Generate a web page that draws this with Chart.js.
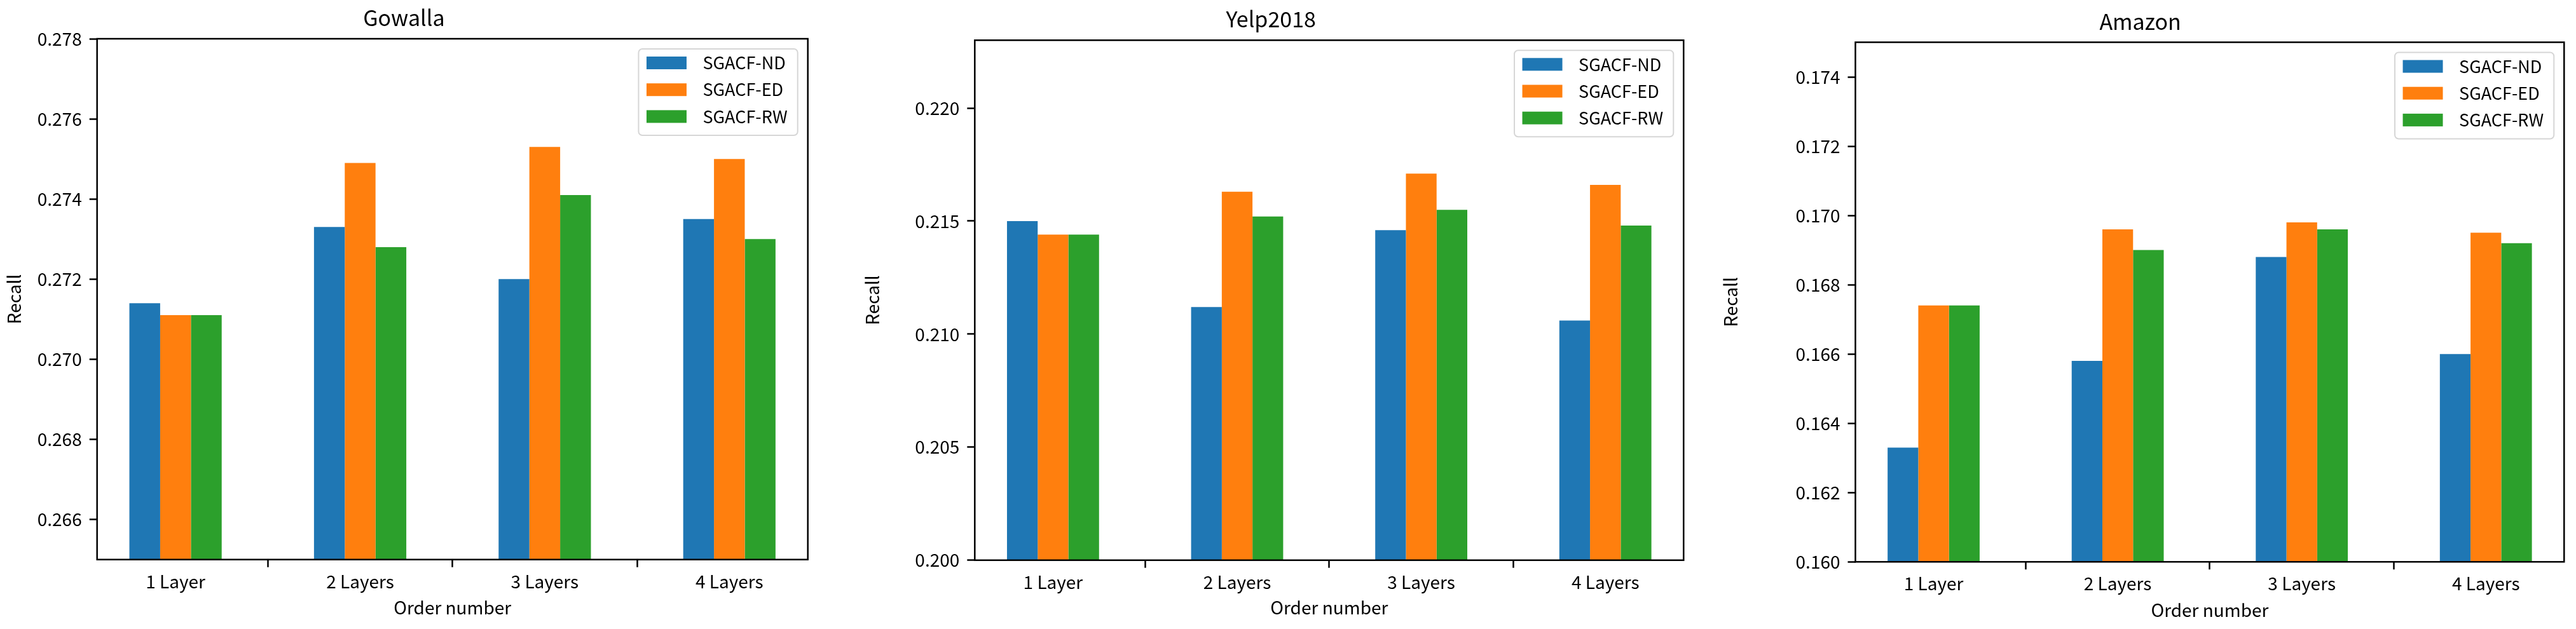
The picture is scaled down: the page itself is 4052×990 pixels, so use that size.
<!DOCTYPE html>
<html><head><meta charset="utf-8">
<script src="https://cdn.jsdelivr.net/npm/chart.js@4.4.1/dist/chart.umd.min.js"></script>
<style>
html,body{margin:0;padding:0;background:#fff;}
#wrap{position:relative;width:4052px;height:990px;overflow:hidden;background:#fff;}
canvas{position:absolute;top:0;}
</style></head><body><div id="wrap">
<canvas id="c0" width="1350" height="990" style="left:0px"></canvas>
<canvas id="c1" width="1350" height="990" style="left:1350px"></canvas>
<canvas id="c2" width="1352" height="990" style="left:2700px"></canvas>
</div>
<script>
// ---- data ----
const categories = ['1 Layer', '2 Layers', '3 Layers', '4 Layers'];
const seriesNames = ['SGACF-ND', 'SGACF-ED', 'SGACF-RW'];
const seriesColors = ['#1f77b4', '#ff7f0e', '#2ca02c'];

const gowallaND = [0.2714, 0.2733, 0.2720, 0.2735];
const gowallaED = [0.2711, 0.2749, 0.2753, 0.2750];
const gowallaRW = [0.2711, 0.2728, 0.2741, 0.2730];
const gowallaTicks = [0.266, 0.268, 0.270, 0.272, 0.274, 0.276, 0.278];

const yelpND = [0.2150, 0.2112, 0.2146, 0.2106];
const yelpED = [0.2144, 0.2163, 0.2171, 0.2166];
const yelpRW = [0.2144, 0.2152, 0.2155, 0.2148];
const yelpTicks = [0.200, 0.205, 0.210, 0.215, 0.220];

const amazonND = [0.1633, 0.1658, 0.1688, 0.1660];
const amazonED = [0.1674, 0.1696, 0.1698, 0.1695];
const amazonRW = [0.1674, 0.1690, 0.1696, 0.1692];
const amazonTicks = [0.160, 0.162, 0.164, 0.166, 0.168, 0.170, 0.172, 0.174];

const xCategoryIndex = [0, 1, 2, 3];

// ---- layout (pixel boxes of each axes) ----
const panels = [
  {id: 'c0', title: 'Gowalla', series: [gowallaND, gowallaED, gowallaRW], yMin: 0.265, yMax: 0.278, yTicks: gowallaTicks,
   box: {left: 152.7, right: 1270.7, top: 61, bottom: 880.7}, xTitlePad: 17},
  {id: 'c1', title: 'Yelp2018', series: [yelpND, yelpED, yelpRW], yMin: 0.200, yMax: 0.223, yTicks: yelpTicks,
   box: {left: 183.3, right: 1298.3, top: 63.3, bottom: 881.7}, xTitlePad: 16.7},
  {id: 'c2', title: 'Amazon', series: [amazonND, amazonED, amazonRW], yMin: 0.160, yMax: 0.175, yTicks: amazonTicks,
   box: {left: 218.5, right: 1333.3, top: 66.5, bottom: 884.3}, xTitlePad: 13}
];

const FONT = "'Noto Sans CJK SC', 'Noto Sans', sans-serif";
Chart.defaults.font.family = FONT;
Chart.defaults.color = '#000';

const framePlugin = {
  id: 'mplFrame',
  afterDraw(chart) {
    const {ctx, chartArea: a} = chart;
    ctx.save();
    // legend
    ctx.font = '27px ' + FONT;
    const ds = chart.data.datasets;
    const tw = Math.max(...ds.map(d => ctx.measureText(d.label).width));
    const w = Math.max(239, 101 + tw + 16), h = 136;
    const x = a.right - 16 - w, y = a.top + 16;
    const r = 6;
    ctx.beginPath();
    ctx.moveTo(x + r, y);
    ctx.arcTo(x + w, y, x + w, y + h, r);
    ctx.arcTo(x + w, y + h, x, y + h, r);
    ctx.arcTo(x, y + h, x, y, r);
    ctx.arcTo(x, y, x + w, y, r);
    ctx.closePath();
    ctx.fillStyle = 'rgba(255,255,255,0.8)';
    ctx.fill();
    ctx.lineWidth = 2;
    ctx.strokeStyle = '#d6d6d6';
    ctx.stroke();
    ds.forEach((d, i) => {
      const cy = y + 22 + i * 42.2;
      ctx.fillStyle = d.backgroundColor;
      ctx.fillRect(x + 12.5, cy - 10, 63, 20);
      ctx.fillStyle = '#000';
      ctx.textBaseline = 'middle';
      ctx.textAlign = 'left';
      ctx.fillText(d.label, x + 101, cy);
    });
    // axes frame
    ctx.lineWidth = 2.5;
    ctx.strokeStyle = '#000';
    ctx.strokeRect(a.left, a.top, a.right - a.left, a.bottom - a.top);
    ctx.restore();
  }
};

panels.forEach(p => {
  const canvas = document.getElementById(p.id);
  const W = canvas.width, H = canvas.height;
  const titlePadTop = p.box.top - 53.3;
  const titlePadBottom = p.box.top - 40.8 - titlePadTop;
  new Chart(canvas, {
    type: 'bar',
    data: {
      datasets: p.series.map((vals, si) => ({
        label: seriesNames[si],
        data: vals.map((v, i) => ({x: xCategoryIndex[i], y: v})),
        backgroundColor: seriesColors[si],
        borderWidth: 0,
        categoryPercentage: 0.5,
        barPercentage: 1.0
      }))
    },
    options: {
      responsive: false,
      animation: false,
      devicePixelRatio: 1,
      layout: {padding: {left: 0, top: 0, bottom: 0, right: W - p.box.right}},
      plugins: {
        legend: {display: false},
        tooltip: {enabled: false},
        title: {display: true, text: p.title, color: '#000',
                font: {size: 34, weight: 'normal', family: FONT, lineHeight: 1.2},
                padding: {top: titlePadTop, bottom: titlePadBottom}}
      },
      scales: {
        x: {
          type: 'linear', min: -0.425, max: 3.425, offset: false,
          afterFit(s) { s.height = H - p.box.bottom; },
          afterBuildTicks(s) { s.ticks = xCategoryIndex.map(v => ({value: v})); },
          ticks: {callback: v => categories[v], font: {size: 28}, padding: 5.5, maxRotation: 0, autoSkip: false, color: '#000'},
          grid: {display: true, drawOnChartArea: false, drawTicks: true, tickLength: 12, tickWidth: 2.5, tickColor: '#000'},
          border: {display: false},
          title: {display: true, text: 'Order number', font: {size: 28}, color: '#000', padding: {top: 0, bottom: p.xTitlePad}}
        },
        y: {
          type: 'linear', min: p.yMin, max: p.yMax,
          afterFit(s) { s.width = p.box.left; },
          afterBuildTicks(s) { s.ticks = p.yTicks.map(v => ({value: v})); },
          ticks: {callback: v => Number(v).toFixed(3), font: {size: 28}, padding: 12, color: '#000'},
          grid: {display: true, drawOnChartArea: false, drawTicks: true, tickLength: 12, tickWidth: 2.5, tickColor: '#000'},
          border: {display: false},
          title: {display: true, text: 'Recall', font: {size: 28}, color: '#000', padding: {top: 6, bottom: 0}}
        }
      }
    },
    plugins: [framePlugin]
  });
});
</script>
</body></html>
